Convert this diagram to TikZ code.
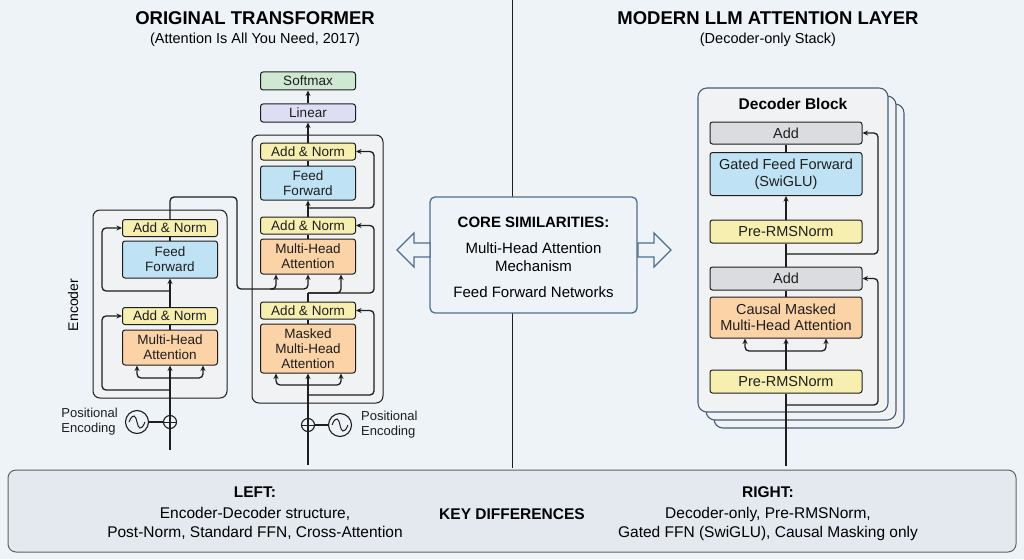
\documentclass[tikz,border=0pt]{standalone}
\usepackage{fontspec}
\setmainfont{Liberation Sans}
\usetikzlibrary{arrows.meta}
\definecolor{bg}{HTML}{EEF3F8}
\definecolor{panel}{HTML}{E3E9EF}
\definecolor{boxbg}{HTML}{F1F2F4}
\definecolor{cyel}{HTML}{F7EFB0}
\definecolor{cblue}{HTML}{BFE2F4}
\definecolor{corg}{HTML}{FBD3A6}
\definecolor{cgrn}{HTML}{CFE8D2}
\definecolor{clav}{HTML}{DDDEF3}
\definecolor{cgray}{HTML}{DADCDF}
\definecolor{edge}{HTML}{4E6E8E}
\definecolor{ink}{HTML}{1E1E1E}
\begin{document}
\begin{tikzpicture}[x=1pt,y=-1pt,
  box/.style={draw=ink,line width=1pt,rounded corners=2.5pt,align=center,inner sep=0pt,font=\fontsize{13.5}{15}\selectfont,text=ink},
  cont/.style={draw=ink,line width=1pt,rounded corners=7pt,fill=boxbg},
  ln/.style={draw=ink,line width=1.3pt},
  ar/.style={ln,-{Stealth[length=5.5pt,width=5pt]}},
  rar/.style={ln,rounded corners=4pt,-{Stealth[length=5.5pt,width=5pt]}},
  lbl/.style={font=\fontsize{13}{15}\selectfont,text=ink,align=left,inner sep=0pt},
  hollow/.style={draw=edge,line width=1.3pt,fill=bg,line join=miter}]
\useasboundingbox (0,0) rectangle (1024,559);
\fill[bg] (0,0) rectangle (1024,559);
\draw[ink,line width=1pt] (512,0) -- (512,468);
\draw[ink!70,line width=1pt,fill=panel,rounded corners=8pt] (8,470) rectangle (1016,552);

% titles
\node[font=\bfseries\fontsize{18.5}{20}\selectfont] (t1) at (255,18) {ORIGINAL TRANSFORMER};
\node[font=\fontsize{14.5}{16}\selectfont] (s1) at (255,40) {(Attention Is All You Need, 2017)};
\node[font=\bfseries\fontsize{18.5}{20}\selectfont] (t2) at (768,18) {MODERN LLM ATTENTION LAYER};
\node[font=\fontsize{14.5}{16}\selectfont] (s2) at (768,40) {(Decoder-only Stack)};

% ---------- Encoder ----------
\draw[cont] (93,210) rectangle (227,398);
\node[rotate=90,font=\fontsize{14}{16}\selectfont] (enc) at (73,305) {Encoder};
\node[box,fill=cyel,minimum width=95,minimum height=17] (ean1) at (170,228) {Add \& Norm};
\node[box,fill=cblue,minimum width=95,minimum height=37] (eff) at (170,259.5) {Feed\\Forward};
\node[box,fill=cyel,minimum width=95,minimum height=17] (ean2) at (170,316) {Add \& Norm};
\node[box,fill=corg,minimum width=95,minimum height=35] (emha) at (170,347.5) {Multi-Head\\Attention};
\draw[ln] (ean1.south) -- (eff.north);
\draw[ln] (ean2.south) -- (emha.north);
\draw[ar] (ean2.north) -- (eff.south);
\coordinate (ein) at (170,450);
\draw[ar] (ein) -- (emha.south);
\draw[ar,rounded corners=4pt] (170,378) -| (137,365.5);
\draw[ar,rounded corners=4pt] (170,378) -| (203,365.5);
\draw[rar] (170,390) -| (102,316) -- (ean2.west);
\draw[rar] (170,291) -| (102,228) -- (ean1.west);
\node[draw=ink,line width=1.1pt,circle,minimum size=13pt,inner sep=0pt] (eplus) at (170,422) {};
\draw[ink,line width=1pt] (eplus.north) -- (eplus.south) (eplus.west) -- (eplus.east);
\node[draw=ink,line width=1.1pt,circle,minimum size=23pt,inner sep=0pt] (esin) at (137,422) {};
\draw[ink,line width=1pt] (129,422) .. controls (133,412) and (136,416) .. (137,422) .. controls (138,428) and (141,432) .. (145,422);
\draw[ln] (esin.east) -- (eplus.west);
\node[lbl,anchor=east] (epe) at (118,422) {Positional\\Encoding};

% ---------- Decoder ----------
\draw[cont] (252,135) rectangle (383,403);
\node[box,fill=cgrn,minimum width=95,minimum height=18] (soft) at (308,81) {Softmax};
\node[box,fill=clav,minimum width=95,minimum height=18] (lin) at (308,113) {Linear};
\node[box,fill=cyel,minimum width=95,minimum height=17] (dan1) at (308,151.5) {Add \& Norm};
\node[box,fill=cblue,minimum width=95,minimum height=34] (dff) at (308,183) {Feed\\Forward};
\node[box,fill=cyel,minimum width=95,minimum height=17] (dan2) at (308,225.5) {Add \& Norm};
\node[box,fill=corg,minimum width=95,minimum height=35] (dmha) at (308,256.5) {Multi-Head\\Attention};
\node[box,fill=cyel,minimum width=95,minimum height=17] (dan3) at (308,310.5) {Add \& Norm};
\node[box,fill=corg,minimum width=95,minimum height=49] (dmm) at (308,348.5) {Masked\\Multi-Head\\Attention};
\draw[ar] (lin.north) -- (soft.south);
\draw[ar] (dan1.north) -- (lin.south);
\draw[ln] (dan1.south) -- (dff.north);
\draw[ar] (dan2.north) -- (dff.south);
\draw[ln] (dan2.south) -- (dmha.north);
\draw[ln] (dan3.south) -- (dmm.north);
\draw[ln] (dan3.north) -- (308,293);
\coordinate (din) at (308,465);
\draw[ar] (din) -- (dmm.south);
\draw[ar,rounded corners=4pt] (308,385) -| (276,373.5);
\draw[ar,rounded corners=4pt] (308,385) -| (341,373.5);
\draw[rar] (308,395) -| (374,310.5) -- (dan3.east);
\draw[rar] (308,293) -| (374,225.5) -- (dan2.east);
\draw[rar] (308,208) -| (374,151.5) -- (dan1.east);
\draw[ar,rounded corners=4pt] (308,293) -| (341,274.5);
% encoder output to decoder
\draw[ar,rounded corners=4pt] (ean1.north) |- (237,197) |- (270,289) -| (276,274.5);
\draw[ar,rounded corners=4pt] (270,289) -| (308,274.5);
\node[draw=ink,line width=1.1pt,circle,minimum size=13pt,inner sep=0pt] (dplus) at (308,425) {};
\draw[ink,line width=1pt] (dplus.north) -- (dplus.south) (dplus.west) -- (dplus.east);
\node[draw=ink,line width=1.1pt,circle,minimum size=23pt,inner sep=0pt] (dsin) at (340,425) {};
\draw[ink,line width=1pt] (332,425) .. controls (336,415) and (339,419) .. (340,425) .. controls (341,431) and (344,435) .. (348,425);
\draw[ln] (dsin.west) -- (dplus.east);
\node[lbl,anchor=west] (dpe) at (361,425) {Positional\\Encoding};

% ---------- Center ----------
\node[draw=edge,line width=1.3pt,fill=bg,rounded corners=5pt,minimum width=207,minimum height=116] (core) at (533.5,255) {};
\node[font=\bfseries\fontsize{15}{17}\selectfont] (ct) at (533.5,222) {CORE SIMILARITIES:};
\node[font=\fontsize{15}{18}\selectfont,align=center] (c1) at (533.5,257) {Multi-Head Attention\\Mechanism};
\node[font=\fontsize{15}{17}\selectfont] (c2) at (533.5,292) {Feed Forward Networks};
\draw[hollow] (397,250) -- (414,233) -- (414,243) -- (430,243) -- (430,257) -- (414,257) -- (414,267) -- cycle;
\draw[hollow] (671,250) -- (654,233) -- (654,243) -- (638,243) -- (638,257) -- (654,257) -- (654,267) -- cycle;

% ---------- Right stack ----------
\draw[draw=edge!80!ink,line width=1.1pt,fill=boxbg,rounded corners=9pt] (714,104) rectangle (904,428);
\draw[draw=edge!80!ink,line width=1.1pt,fill=boxbg,rounded corners=9pt] (706,96) rectangle (896,420);
\draw[draw=edge!80!ink,line width=1.1pt,fill=boxbg,rounded corners=9pt] (698,88) rectangle (888,412);
\node[font=\bfseries\fontsize{15.5}{17}\selectfont] (db) at (793,104) {Decoder Block};
\node[box,fill=cgray,minimum width=152,minimum height=22,font=\fontsize{14.5}{16.5}\selectfont] (add1) at (786,133) {Add};
\node[box,fill=cblue,minimum width=152,minimum height=43,font=\fontsize{14.5}{16.5}\selectfont] (gff) at (786,174) {Gated Feed Forward\\(SwiGLU)};
\node[box,fill=cyel,minimum width=152,minimum height=23,font=\fontsize{14.5}{16.5}\selectfont] (rms1) at (786,231.5) {Pre-RMSNorm};
\node[box,fill=cgray,minimum width=152,minimum height=23,font=\fontsize{14.5}{16.5}\selectfont] (add2) at (786,278.5) {Add};
\node[box,fill=corg,minimum width=152,minimum height=41,font=\fontsize{14.5}{16.5}\selectfont] (cmha) at (786,317.5) {Causal Masked\\Multi-Head Attention};
\node[box,fill=cyel,minimum width=152,minimum height=23,font=\fontsize{14.5}{16.5}\selectfont] (rms2) at (786,381.5) {Pre-RMSNorm};
\draw[ln] (add1.south) -- (gff.north);
\draw[ar] (rms1.north) -- (gff.south);
\draw[ln] (add2.north) -- (rms1.south);
\draw[ln] (add2.south) -- (cmha.north);
\coordinate (rin) at (786,466);
\draw[ln] (rin) -- (rms2.south);
\draw[ar] (rms2.north) -- (cmha.south);
\draw[ar,rounded corners=4pt] (786,351) -| (745,338.5);
\draw[ar,rounded corners=4pt] (786,351) -| (826,338.5);
\draw[rar] (786,405) -| (878,278.5) -- (add2.east);
\draw[rar] (786,254) -| (878,133) -- (add1.east);

% ---------- Bottom ----------
\node[font=\bfseries\fontsize{15.5}{17}\selectfont] (lt) at (255,492) {LEFT:};
\node[font=\fontsize{15.5}{17}\selectfont,align=center] (ltx) at (255,523.5) {Encoder-Decoder structure,\\[2pt]Post-Norm, Standard FFN, Cross-Attention};
\node[font=\bfseries\fontsize{15.5}{17}\selectfont] (kd) at (512,514) {KEY DIFFERENCES};
\node[font=\bfseries\fontsize{15.5}{17}\selectfont] (rt) at (768,492) {RIGHT:};
\node[font=\fontsize{15.5}{17}\selectfont,align=center] (rtx) at (768,523.5) {Decoder-only, Pre-RMSNorm,\\[2pt]Gated FFN (SwiGLU), Causal Masking only};
\end{tikzpicture}
\end{document}
